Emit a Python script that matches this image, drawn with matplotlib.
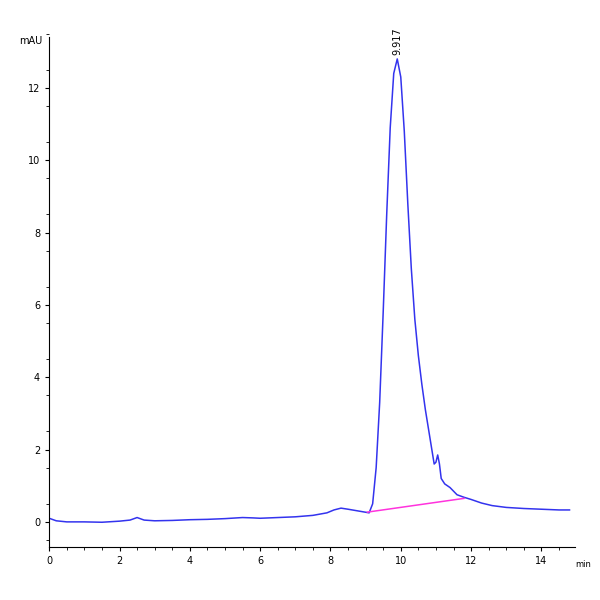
import matplotlib
matplotlib.use("Agg")
import matplotlib.pyplot as plt
import numpy as np

t = [0, 0.2, 0.5, 1.0, 1.5, 2.0, 2.3, 2.5, 2.7, 3.0, 3.5, 4.0, 4.5, 5.0, 5.5, 5.8, 6.0, 6.5, 7.0, 7.5, 7.9, 8.1, 8.3, 8.5, 8.8, 9.1,
     9.2, 9.3, 9.4, 9.5, 9.6, 9.7, 9.8, 9.9, 10.0, 10.1, 10.2, 10.3, 10.4, 10.5, 10.6, 10.7, 10.8, 10.9, 10.95, 11.0, 11.05, 11.1, 11.15, 11.25,
     11.4, 11.6, 11.8, 12.0, 12.3, 12.6, 13.0, 13.5, 14.0, 14.5, 14.8]
y = [0.1, 0.03, 0.0, 0.0, -0.01, 0.02, 0.05, 0.12, 0.05, 0.03, 0.04, 0.06, 0.07, 0.09, 0.12, 0.11, 0.1, 0.12, 0.14, 0.18, 0.25, 0.33, 0.38, 0.35, 0.3, 0.25,
     0.5, 1.5, 3.3, 5.8, 8.5, 10.9, 12.4, 12.8, 12.3, 10.8, 8.8, 7.0, 5.6, 4.6, 3.8, 3.1, 2.5, 1.9, 1.6, 1.65, 1.85, 1.6, 1.2, 1.05,
     0.95, 0.75, 0.68, 0.62, 0.52, 0.45, 0.40, 0.37, 0.35, 0.33, 0.33]
base_t = [9.05, 11.8]
base_y = [0.27, 0.65]

fig = plt.figure(figsize=(6, 6), dpi=100)
ax = fig.add_axes([0.082, 0.088, 0.876, 0.862])
ax.plot(t, y, color="#3333ee", lw=1.1)
ax.plot(base_t, base_y, color="#ff33dd", lw=1.1)
ax.text(9.917, 12.9, "9.917", rotation=90, fontsize=7, ha="center", va="bottom")
ax.set_xlim(0, 14.95)
ax.set_ylim(-0.7, 13.6)
ax.set_xticks(range(0, 15, 2))
ax.set_xticks(np.arange(0, 15, 0.5), minor=True)
ax.set_yticks(range(0, 13, 2))
ax.set_yticks(np.arange(-0.5, 13.6, 1), minor=True)
for s in ["top", "right"]:
    ax.spines[s].set_visible(False)
ax.spines["left"].set_bounds(-0.7, 13.4)
ax.tick_params(labelsize=7, length=3)
ax.tick_params(which="minor", length=2)
ax.text(-0.2, 13.3, "mAU", fontsize=7, ha="right", va="center")
ax.text(14.95, -1.05, "min", fontsize=6, ha="left", va="top")
fig.savefig("out.png")
